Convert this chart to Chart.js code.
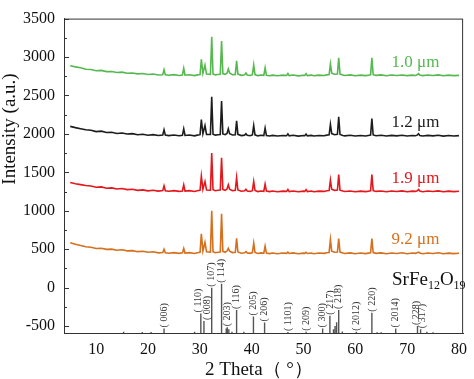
<!DOCTYPE html>
<html>
<head>
<meta charset="utf-8">
<script src="https://cdn.jsdelivr.net/npm/chart.js@4.4.1/dist/chart.umd.min.js"></script>
<style>
  body{margin:0;background:#fff}
  canvas{display:block}
</style>
</head>
<body>
<canvas id="xrd_chart" width="474" height="379"></canvas>
<script>
// 2 theta positions shared by the four measured patterns
const two_theta=[5,6,7,8,9,10,11,12,13,14,15,16,17,18,19,20,21,22,
  22.85,23.1,23.35,24,25,26,
  26.65,26.9,27.15,28,29,29.5,
  30.05,30.3,30.6,31.0,31.3,
  32.05,32.3,32.55,33,33.5,
  33.95,34.2,34.45,34.9,
  35.25,35.5,35.75,36.3,
  36.85,37.1,37.35,38,
  38.65,38.9,39.15,39.7,
  40.15,40.4,40.65,41.2,41.8,
  42.35,42.6,42.85,43.5,44,45,46,
  46.75,47.0,47.25,48,49,50,
  50.25,50.5,50.75,51.5,52,53,54,54.5,
  54.95,55.2,55.45,56,56.55,56.8,57.05,57.6,58,59,60,61,62,62.5,
  62.95,63.2,63.45,64,65,66,67,68,69,70,71,71.6,
  71.95,72.2,72.45,73,74,75,76,77,78,79,80]

const green_1_0=[2886,2872,2860,2841,2838,2822,2826,2810,2812,2798,2803,2789,2793,2781,2786,2772,2779,2766,
  2770,2834,2768,2763,2771,2760,
  2766,2854,2764,2770,2759,2768,
  2772,2971,2790,2896,2778,
  2775,3262,2780,2768,2772,
  2776,3208,2785,2775,
  2790,2846,2792,2770,
  2774,2950,2778,2762,
  2768,2792,2766,2760,
  2770,2896,2772,2758,2766,
  2762,2858,2764,2757,2765,2756,2764,
  2760,2785,2758,2766,2755,2763,
  2760,2784,2758,2765,2756,2764,2760,2768,
  2772,2908,2790,2776,2780,2991,2778,2766,2760,2768,2757,2765,2758,2764,
  2768,2991,2770,2762,2768,2756,2766,2760,2767,2758,2765,2760,
  2768,2785,2765,2758,2766,2760,2768,2757,2764,2758,2762]

const black_1_2=[2098,2082,2068,2055,2048,2030,2036,2018,2022,2006,2012,1999,2004,1990,1996,1983,1990,1980,
  1986,2054,1984,1978,1986,1976,
  1982,2066,1980,1986,1975,1984,
  1990,2187,2002,2109,1994,
  1992,2484,1996,1984,1990,
  1992,2429,2000,1990,
  2006,2066,2004,1986,
  1990,2171,1994,1978,
  1984,2002,1982,1976,
  1986,2109,1988,1974,1982,
  1978,2075,1980,1973,1981,1972,1980,
  1976,2000,1974,1982,1971,1979,
  1976,1998,1974,1981,1972,1980,1976,1984,
  1988,2125,2004,1990,1994,2221,1992,1980,1974,1982,1972,1980,1973,1979,
  1984,2200,1986,1976,1982,1972,1981,1975,1983,1972,1980,1976,
  1984,2002,1980,1972,1981,1975,1983,1971,1979,1973,1978]

const red_1_9=[1368,1352,1340,1328,1322,1306,1311,1294,1298,1283,1289,1275,1280,1266,1272,1259,1266,1256,
  1262,1325,1260,1254,1262,1252,
  1258,1337,1256,1262,1251,1260,
  1266,1450,1280,1379,1270,
  1268,1750,1274,1260,1266,
  1270,1691,1278,1266,
  1282,1337,1280,1262,
  1266,1429,1270,1254,
  1260,1280,1258,1252,
  1262,1379,1264,1250,1258,
  1254,1346,1256,1249,1257,1248,1256,
  1252,1278,1250,1258,1247,1255,
  1252,1276,1250,1257,1248,1256,1252,1260,
  1264,1400,1280,1266,1270,1471,1268,1256,1250,1258,1248,1256,1249,1255,
  1260,1471,1262,1252,1258,1248,1257,1251,1259,1248,1256,1252,
  1260,1278,1256,1248,1257,1251,1259,1247,1255,1249,1254]

const orange_9_2=[585,565,548,532,525,510,512,498,501,487,492,478,482,468,474,460,466,452,
  458,500,455,448,456,446,
  452,510,450,456,445,454,
  460,700,476,590,466,
  462,1000,468,454,460,
  464,960,472,460,
  476,510,474,456,
  460,640,464,448,
  454,470,452,446,
  456,580,458,444,452,
  448,540,450,443,451,442,450,
  446,462,444,452,441,449,
  446,460,444,451,442,450,446,454,
  458,625,474,460,464,637,462,450,444,452,442,450,443,449,
  454,637,456,446,452,442,451,445,453,442,450,446,
  454,462,450,442,451,445,453,441,449,443,448]

const sample_names=['1.0 μm','1.2 μm','1.9 μm','9.2 μm']
const sample_colors=['#55b94f','#1c1c1c','#e3171c','#d5701f']

// SrFe12O19 reference lines
const ref_pos=[15.3,18.9,20.6,23.1,29.0,30.2,30.8,32.3,34.2,35.1,35.3,35.6,36.2,37.1,38.5,40.35,42.5,47.0,50.5,53.7,55.1,55.8,56.1,56.4,56.8,57.5,60.2,63.2,64.2,65.0,67.8,72.0,72.6,73.8,75.0]
const ref_top=[-575,-578,-578,-530,-575,-335,-435,0,50,-530,-515,-540,-575,-290,-575,-375,-455,-578,-575,-530,-365,-540,-500,-450,-290,-570,-575,-325,-580,-580,-530,-500,-540,-575,-580]
const ref_hkl=['','','','006','','110','008','107','114','','203','','','116','','205','206','1101','209','300','217','','','','218','','2012','220','','','2014','228','317','','']

const x_ticks=[10,20,30,40,50,60,70,80]
const y_ticks=[-500,0,500,1000,1500,2000,2500,3000,3500]
const y_min=-590

const ref_points=[]
for(let i=0;i<ref_pos.length;i++){
  ref_points.push({x:ref_pos[i],y:y_min})
  ref_points.push({x:ref_pos[i],y:ref_top[i]})
  ref_points.push({x:ref_pos[i],y:null})
}

const series=[green_1_0,black_1_2,red_1_9,orange_9_2]
const datasets=[]
for(let s=0;s<series.length;s++){
  datasets.push({
    label:sample_names[s],
    data:two_theta.map((t,i)=>({x:t,y:series[s][i]})),
    borderColor:sample_colors[s],
    borderWidth:1.6,
    pointRadius:0,
    tension:0
  })
}
datasets.push({
  label:'SrFe12O19',
  data:ref_points,
  borderColor:'#555',
  borderWidth:1.4,
  pointRadius:0,
  spanGaps:false
})

const serif='"Liberation Serif", "Times New Roman", serif'

const decor={
  id:'decor',
  afterDatasetsDraw(chart){
    const ctx=chart.ctx
    const xs=chart.scales.x
    const ys=chart.scales.y
    const a=chart.chartArea
    ctx.save()
    // frame
    ctx.strokeStyle='#333'
    ctx.lineWidth=1
    ctx.strokeRect(a.left+0.5,a.top+0.5,a.right-a.left-1,a.bottom-a.top)
    // inward ticks on y
    for(let v=-500;v<=3500;v+=250){
      const py=Math.round(ys.getPixelForValue(v))+0.5
      const len=(v%500===0)?5:3
      ctx.beginPath()
      ctx.moveTo(a.left,py)
      ctx.lineTo(a.left+len,py)
      ctx.stroke()
    }
    // hkl labels
    ctx.fillStyle='#333'
    ctx.font='10px '+serif
    ctx.textAlign='left'
    ctx.textBaseline='middle'
    const shift={'110':-2,'008':3,'228':-1,'317':2}
    for(let i=0;i<ref_pos.length;i++){
      if(ref_hkl[i]==='') continue
      const px=xs.getPixelForValue(ref_pos[i])+(shift[ref_hkl[i]]||0)
      const py=ys.getPixelForValue(ref_top[i])-1
      ctx.save()
      ctx.translate(px,py)
      ctx.rotate(-Math.PI/2)
      ctx.fillText('( '+ref_hkl[i]+')',0,0)
      ctx.restore()
    }
    // sample names
    const name_y=[2925,2150,1425,629]
    ctx.font='17px '+serif
    for(let s=0;s<sample_names.length;s++){
      ctx.fillStyle=sample_colors[s]
      ctx.fillText(sample_names[s],xs.getPixelForValue(67),ys.getPixelForValue(name_y[s]))
    }
    // phase name with subscripts
    ctx.fillStyle='#111'
    ctx.textBaseline='alphabetic'
    let tx=392
    const ty=285
    const parts=[['SrFe',19,0],['12',12,4],['O',19,0],['19',12,4]]
    for(const p of parts){
      ctx.font=p[1]+'px '+serif
      ctx.fillText(p[0],tx,ty+p[2])
      tx+=ctx.measureText(p[0]).width
    }
    // axis titles
    ctx.fillStyle='#111'
    ctx.font='19px '+serif
    ctx.textAlign='center'
    ctx.textBaseline='middle'
    ctx.fillText('2 Theta（ °）',259,370)
    ctx.save()
    ctx.translate(10,129)
    ctx.rotate(-Math.PI/2)
    ctx.fillText('Intensity (a.u.)',0,0)
    ctx.restore()
    ctx.restore()
  }
}

new Chart('xrd_chart',{
  type:'line',
  data:{datasets:datasets},
  options:{
    responsive:false,
    animation:false,
    layout:{padding:{top:6,right:4,left:0,bottom:0}},
    plugins:{legend:{display:false},tooltip:{enabled:false}},
    scales:{
      x:{
        type:'linear',
        min:3.8,
        max:80.8,
        grid:{display:false,drawTicks:false},
        border:{display:true,color:'#333',width:1},
        ticks:{padding:7,color:'#111',font:{family:serif,size:16},callback:v=>String(v)},
        afterBuildTicks:s=>{s.ticks=x_ticks.map(v=>({value:v}))},
        afterFit:s=>{s.height=46}
      },
      y:{
        min:y_min,
        max:3500,
        grid:{display:false,drawTicks:false},
        border:{display:true,color:'#333',width:1},
        ticks:{padding:9,color:'#111',font:{family:serif,size:16},callback:v=>String(v)},
        afterBuildTicks:s=>{s.ticks=y_ticks.map(v=>({value:v}))},
        afterFit:s=>{s.width=64}
      }
    }
  },
  plugins:[decor]
})
</script>
</body>
</html>
